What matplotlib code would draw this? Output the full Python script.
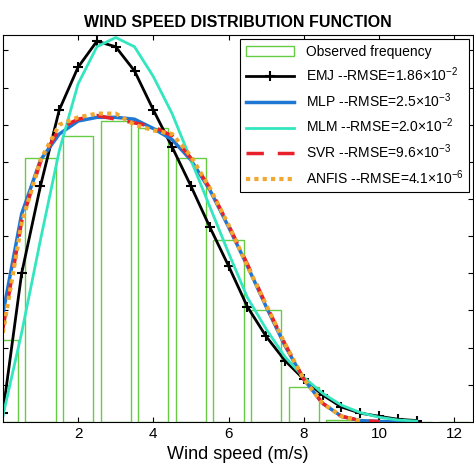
import matplotlib
matplotlib.use("Agg")
import matplotlib.pyplot as plt
import numpy as np

plt.rcParams['font.family'] = ['Liberation Sans', 'DejaVu Sans']
plt.rcParams['mathtext.fontset'] = 'custom'
plt.rcParams['mathtext.rm'] = 'Liberation Sans'

bin_centers = [0, 1, 2, 3, 4, 5, 6, 7, 8, 9, 10, 11, 12]
bin_heights = [0.044, 0.142, 0.154, 0.162, 0.158, 0.142, 0.098, 0.060, 0.019, 0.001, 0.0003, 0.0001, 0.0]

xs = [0, 0.5, 1, 1.5, 2, 2.5, 3, 3.5, 4, 4.5, 5, 5.5, 6, 6.5, 7, 7.5, 8, 8.5, 9, 9.5, 10, 10.5, 11]
emj = [0.005, 0.080, 0.127, 0.168, 0.191, 0.205, 0.202, 0.189, 0.168, 0.148, 0.127, 0.105, 0.084, 0.062, 0.046, 0.033, 0.023, 0.0145, 0.008, 0.0047, 0.003, 0.0014, 0.0007]
mlm = [0.003, 0.048, 0.098, 0.146, 0.182, 0.202, 0.207, 0.202, 0.186, 0.166, 0.141, 0.116, 0.091, 0.067, 0.050, 0.035, 0.024, 0.0154, 0.009, 0.005, 0.0025, 0.001, 0.0004]
mlp = [0.058, 0.112, 0.141, 0.155, 0.162, 0.164, 0.164, 0.163, 0.158, 0.152, 0.141, 0.125, 0.105, 0.084, 0.062, 0.041, 0.023, 0.010, 0.003, 0.0007, 0.0002, 0.0001, 0.0]
svr = [0.050, 0.108, 0.140, 0.158, 0.163, 0.165, 0.163, 0.161, 0.159, 0.154, 0.142, 0.126, 0.106, 0.085, 0.063, 0.042, 0.023, 0.010, 0.003, 0.0007, 0.0002]
anfis = [0.048, 0.107, 0.141, 0.160, 0.164, 0.166, 0.166, 0.160, 0.157, 0.155, 0.143, 0.126, 0.106, 0.084, 0.063, 0.042, 0.023, 0.010, 0.003, 0.0005]

fig = plt.figure(figsize=(4.74, 4.74), dpi=100)
ax = fig.add_axes([0.006, 0.11, 0.992, 0.816])
h0 = ax.bar(bin_centers, bin_heights, width=0.8, fill=False, edgecolor='#66cc44', linewidth=1, label='Observed frequency')
ax.plot(xs, emj, color='black', lw=2, marker='+', ms=7, mew=1.5, label=r'EMJ --RMSE=1.86$\times$10$^{-2}$')
ax.plot(xs, mlp, color='#1f77d4', lw=2.5, label=r'MLP --RMSE=2.5$\times$10$^{-3}$')
ax.plot(xs, mlm, color='#33e6c0', lw=2, label=r'MLM --RMSE=2.0$\times$10$^{-2}$')
ax.plot(xs[:len(svr)], svr, color='#e8202a', lw=2.5, ls=(0, (5, 4)), label=r'SVR --RMSE=9.6$\times$10$^{-3}$')
ax.plot(xs[:len(anfis)], anfis, color='#f0a830', lw=3, ls=(0, (1, 1)), label=r'ANFIS --RMSE=4.1$\times$10$^{-6}$')

ax.set_xlim(0, 12.5)
ax.set_ylim(0, 0.2083)
ax.set_xticks([2, 4, 6, 8, 10, 12])
ax.set_yticks(np.arange(0.02, 0.21, 0.02))
ax.set_yticklabels([])
ax.tick_params(direction='in', top=True, right=True, labelsize=11)
ax.set_xlabel('Wind speed (m/s)', fontsize=13)
ax.set_title('WIND SPEED DISTRIBUTION FUNCTION', fontsize=11.5, fontweight='bold')
handles, labels = ax.get_legend_handles_labels()
handles = [handles[-1]] + handles[:-1]
labels = [labels[-1]] + labels[:-1]
leg = ax.legend(handles, labels, loc='upper right', fontsize=10, fancybox=False, edgecolor='black', framealpha=1,
                handlelength=3.5, borderaxespad=0.3, labelspacing=0.5)
leg.get_frame().set_linewidth(0.8)
fig.savefig('out.png', dpi=100)
